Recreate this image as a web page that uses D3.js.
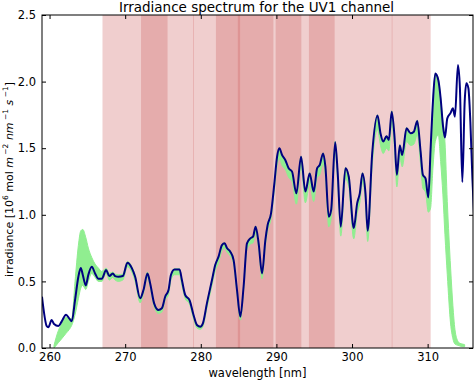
<!DOCTYPE html>
<html>
<head>
<meta charset="utf-8">
<script src="https://cdn.jsdelivr.net/npm/d3@7"></script>
<style>
  html, body { margin: 0; padding: 0; background: #fff; }
  svg { display: block; font-family: 'DejaVu Sans', sans-serif; }
</style>
</head>
<body>
<div id="chart"></div>
<script>
// data
const wavelength = [
  259.0, 259.62, 259.83, 260.28, 260.59, 261.16, 261.61, 262.18, 262.62, 262.93,
  263.37, 263.81, 264.13, 264.39, 264.79, 265.13, 265.58, 266.02, 266.46, 266.91,
  267.48, 267.91, 268.36, 268.67, 269.11, 269.69, 270.30, 270.88, 271.32, 271.98,
  272.42, 272.95, 273.30, 273.83, 274.40, 274.85, 275.29, 275.73, 276.05, 276.52,
  277.19, 277.50, 277.94, 278.51, 279.04, 279.49, 279.93, 280.28, 280.81, 281.48,
  281.91, 282.35, 282.80, 283.15, 283.46, 283.90, 284.34, 284.79, 285.23, 285.66,
  286.11, 286.55, 286.91, 287.25, 287.65, 288.10, 288.54, 288.84, 289.29, 289.73,
  290.09, 290.39, 290.75, 291.19, 291.62, 292.07, 292.64, 293.26, 293.83, 294.40,
  294.93, 295.38, 295.73, 296.18, 296.48, 296.92, 297.24, 297.77, 298.11, 298.51,
  299.13, 299.57, 300.23, 300.68, 301.03, 301.38, 301.78, 302.07, 302.67, 303.37,
  303.77, 304.13, 304.56, 304.87, 305.25, 305.62, 305.93, 306.32, 306.64, 307.21,
  307.74, 308.18, 308.63, 309.07, 309.37, 309.72, 310.09, 310.39, 310.70, 311.01,
  311.41, 311.72, 312.02, 312.29, 312.60, 313.04, 313.34, 313.61, 314.01, 314.27,
  314.59, 314.90, 315.12, 315.39, 315.65, 315.92, 316.22
];

const irradiance = [
  0.385, 0.165, 0.155, 0.21, 0.18, 0.165, 0.2, 0.25, 0.22, 0.2,
  0.36, 0.535, 0.6, 0.55, 0.47, 0.55, 0.61, 0.56, 0.52, 0.52,
  0.585, 0.54, 0.56, 0.54, 0.535, 0.54, 0.64, 0.6, 0.535, 0.373,
  0.435, 0.56, 0.486, 0.335, 0.285, 0.298, 0.385, 0.435, 0.548, 0.59,
  0.59, 0.51, 0.398, 0.36, 0.248, 0.173, 0.16, 0.185, 0.335, 0.51,
  0.623, 0.686, 0.773, 0.786, 0.75, 0.723, 0.66, 0.435, 0.235, 0.46,
  0.786, 0.823, 0.836, 0.91, 0.786, 0.56, 0.81, 0.923, 1.011, 1.236,
  1.436, 1.5, 1.449, 1.41, 1.349, 1.324, 1.161, 1.436, 1.174, 1.311,
  1.174, 1.349, 1.374, 1.461, 1.361, 0.986, 1.036, 1.545, 1.311, 0.911,
  1.35, 1.286, 0.9, 1.086, 1.161, 1.311, 1.161, 0.88, 1.461, 1.745,
  1.611, 1.55, 1.59, 1.562, 1.774, 1.586, 1.3, 1.52, 1.449, 1.649,
  1.612, 1.624, 1.705, 1.474, 1.299, 1.274, 1.13, 1.49, 1.849, 2.06,
  2.012, 1.875, 1.674, 1.58, 1.724, 1.765, 1.8, 1.737, 2.125, 1.95,
  1.245, 1.849, 1.987, 1.95, 1.699, 1.274, 0.9
];

// spread of the spectrum (green band), null where there is none
const bandLow = [
  null, null, null, null, 0.0, 0.04, 0.07, 0.11, 0.14, 0.17,
  0.25, 0.37, 0.45, 0.47, 0.44, 0.5, 0.56, 0.53, 0.5, 0.5,
  0.56, 0.51, 0.53, 0.51, 0.5, 0.51, 0.61, 0.57, 0.5, 0.34,
  0.41, 0.53, 0.46, 0.31, 0.26, 0.27, 0.36, 0.4, 0.51, 0.55,
  0.55, 0.47, 0.37, 0.33, 0.22, 0.15, 0.14, 0.16, 0.3, 0.47,
  0.58, 0.64, 0.73, 0.75, 0.72, 0.69, 0.63, 0.41, 0.21, 0.43,
  0.74, 0.78, 0.79, 0.86, 0.75, 0.52, 0.77, 0.88, 0.97, 1.19,
  1.37, 1.42, 1.37, 1.34, 1.28, 1.25, 1.08, 1.36, 1.09, 1.23,
  1.1, 1.28, 1.3, 1.38, 1.29, 0.91, 0.97, 1.47, 1.24, 0.84,
  1.27, 1.21, 0.82, 1.01, 1.09, 1.24, 1.09, 0.8, 1.37, 1.64,
  1.52, 1.46, 1.5, 1.48, 1.68, 1.5, 1.21, 1.43, 1.36, 1.55,
  1.52, 1.53, 1.6, 1.38, 1.2, 1.17, 1.02, 1.05, 1.35, 1.55,
  1.6, 1.4, 1.15, 0.85, 0.55, 0.18, 0.07, 0.03, 0.02, 0.015,
  0.01, 0.01, null, null, null, null, null
];

const bandHigh = [
  null, null, null, null, 0.02, 0.13, 0.18, 0.23, 0.22, 0.22,
  0.5, 0.77, 0.88, 0.89, 0.83, 0.75, 0.68, 0.63, 0.6, 0.575,
  0.6, 0.56, 0.57, 0.555, 0.55, 0.555, 0.65, 0.61, 0.545, 0.38,
  0.44, 0.57, 0.49, 0.34, 0.29, 0.3, 0.39, 0.44, 0.55, 0.595,
  0.595, 0.515, 0.4, 0.365, 0.25, 0.175, 0.165, 0.19, 0.34, 0.515,
  0.63, 0.69, 0.78, 0.79, 0.755, 0.73, 0.665, 0.44, 0.24, 0.465,
  0.79, 0.83, 0.84, 0.915, 0.79, 0.565, 0.815, 0.93, 1.02, 1.24,
  1.44, 1.5, 1.45, 1.415, 1.355, 1.33, 1.165, 1.44, 1.18, 1.315,
  1.18, 1.355, 1.38, 1.465, 1.365, 0.99, 1.04, 1.55, 1.315, 0.915,
  1.355, 1.29, 0.905, 1.09, 1.165, 1.315, 1.165, 0.885, 1.465, 1.75,
  1.615, 1.555, 1.595, 1.565, 1.78, 1.59, 1.305, 1.525, 1.455, 1.655,
  1.615, 1.63, 1.71, 1.48, 1.305, 1.28, 1.135, 1.5, 1.85, 2.06,
  2.02, 1.88, 1.7, 1.55, 1.1, 0.6, 0.32, 0.14, 0.05, 0.035,
  0.03, 0.025, null, null, null, null, null
];

// shaded wavelength windows [nm]
const spanStart = [267.0, 279.0, 305.25, 272.1, 282.0, 284.9, 289.9, 294.3];
const spanEnd = [279.1, 305.35, 310.4, 275.6, 285.2, 289.6, 293.3, 297.7];

const xTicks = [260, 270, 280, 290, 300, 310];
const yTicks = [0.0, 0.5, 1.0, 1.5, 2.0, 2.5];

const SpectrumPainter = {};

SpectrumPainter.option = {
  width: 474,
  height: 382,
  left: 42,
  right: 473,
  top: 15,
  bottom: 348,
  xDomain: [259, 316],
  yDomain: [0, 2.5]
};

SpectrumPainter.painting = (container) => {
  const option = SpectrumPainter.option;

  const svg = d3.select(container)
      .append('svg')
      .attr('width', option.width)
      .attr('height', option.height);

  const x = d3.scaleLinear()
      .domain(option.xDomain)
      .range([option.left, option.right]);

  const y = d3.scaleLinear()
      .domain(option.yDomain)
      .range([option.bottom, option.top]);

  svg.append('clipPath')
      .attr('id', 'plot-clip')
      .append('rect')
      .attr('x', option.left)
      .attr('y', option.top)
      .attr('width', option.right - option.left)
      .attr('height', option.bottom - option.top);

  const plot = svg.append('g').attr('clip-path', 'url(#plot-clip)');

  // shaded windows
  plot.selectAll('.span')
      .data(d3.range(spanStart.length))
      .enter()
      .append('rect')
      .attr('class', 'span')
      .attr('x', (i) => x(spanStart[i]))
      .attr('width', (i) => x(spanEnd[i]) - x(spanStart[i]))
      .attr('y', option.top)
      .attr('height', option.bottom - option.top)
      .attr('fill', 'indianred')
      .attr('fill-opacity', 0.3);

  const idx = d3.range(wavelength.length);

  // green spread
  const area = d3.area()
      .defined((i) => bandLow[i] !== null)
      .x((i) => x(wavelength[i]))
      .y0((i) => y(bandLow[i]))
      .y1((i) => y(bandHigh[i]))
      .curve(d3.curveMonotoneX);

  plot.append('path')
      .datum(idx)
      .attr('d', area)
      .attr('fill', 'lightgreen')
      .attr('stroke', 'lightgreen')
      .attr('stroke-width', 1);

  // mean spectrum
  const line = d3.line()
      .x((i) => x(wavelength[i]))
      .y((i) => y(irradiance[i]))
      .curve(d3.curveMonotoneX);

  plot.append('path')
      .datum(idx)
      .attr('d', line)
      .attr('fill', 'none')
      .attr('stroke', 'navy')
      .attr('stroke-width', 2)
      .attr('stroke-linejoin', 'round');

  // axes, ticks pointing inwards
  const styleAxis = (g) => {
    g.select('.domain').remove();
    g.selectAll('.tick line').attr('stroke', '#000');
    g.selectAll('.tick text')
        .attr('fill', '#000')
        .attr('font-size', 11.5)
        .attr('font-family', 'DejaVu Sans, sans-serif');
  };

  svg.append('g')
      .attr('transform', `translate(0,${option.bottom})`)
      .call(d3.axisBottom(x).tickValues(xTicks).tickSize(-4).tickPadding(5)
          .tickFormat(d3.format('d')))
      .call(styleAxis);

  svg.append('g')
      .attr('transform', `translate(0,${option.top})`)
      .call(d3.axisTop(x).tickValues(xTicks).tickSize(-4).tickFormat(''))
      .call(styleAxis);

  svg.append('g')
      .attr('transform', `translate(${option.left},0)`)
      .call(d3.axisLeft(y).tickValues(yTicks).tickSize(-4).tickPadding(6)
          .tickFormat(d3.format('.1f')))
      .call(styleAxis);

  svg.append('g')
      .attr('transform', `translate(${option.right},0)`)
      .call(d3.axisRight(y).tickValues(yTicks).tickSize(-4).tickFormat(''))
      .call(styleAxis);

  // frame
  svg.append('rect')
      .attr('x', option.left)
      .attr('y', option.top)
      .attr('width', option.right - option.left)
      .attr('height', option.bottom - option.top)
      .attr('fill', 'none')
      .attr('stroke', '#000')
      .attr('stroke-width', 1);

  // texts
  svg.append('text')
      .attr('x', (option.left + option.right) / 2 - 1)
      .attr('y', 12)
      .attr('text-anchor', 'middle')
      .attr('font-size', 13.5)
      .text('Irradiance spectrum for the UV1 channel');

  svg.append('text')
      .attr('x', (option.left + option.right) / 2)
      .attr('y', 377)
      .attr('text-anchor', 'middle')
      .attr('font-size', 11.5)
      .text('wavelength [nm]');

  const ylab = svg.append('text')
      .attr('transform', `translate(13,${(option.top + option.bottom) / 2 - 2}) rotate(-90)`)
      .attr('text-anchor', 'middle')
      .attr('font-size', 11);
  ylab.append('tspan').text('irradiance [10');
  ylab.append('tspan').attr('font-size', 7.5).attr('dy', -5).text('6');
  ylab.append('tspan').attr('dy', 5).text(' mol ');
  ylab.append('tspan').attr('font-style', 'italic').text('m');
  ylab.append('tspan').attr('font-size', 7.5).attr('dy', -5).text(' \u22122');
  ylab.append('tspan').attr('dy', 5).attr('font-style', 'italic').text(' nm');
  ylab.append('tspan').attr('font-size', 7.5).attr('dy', -5).text(' \u22121');
  ylab.append('tspan').attr('dy', 5).attr('font-style', 'italic').text(' s');
  ylab.append('tspan').attr('font-size', 7.5).attr('dy', -5).text(' \u22121');
  ylab.append('tspan').attr('dy', 5).text(']');
};

SpectrumPainter.painting(document.getElementById('chart'));
</script>
</body>
</html>
